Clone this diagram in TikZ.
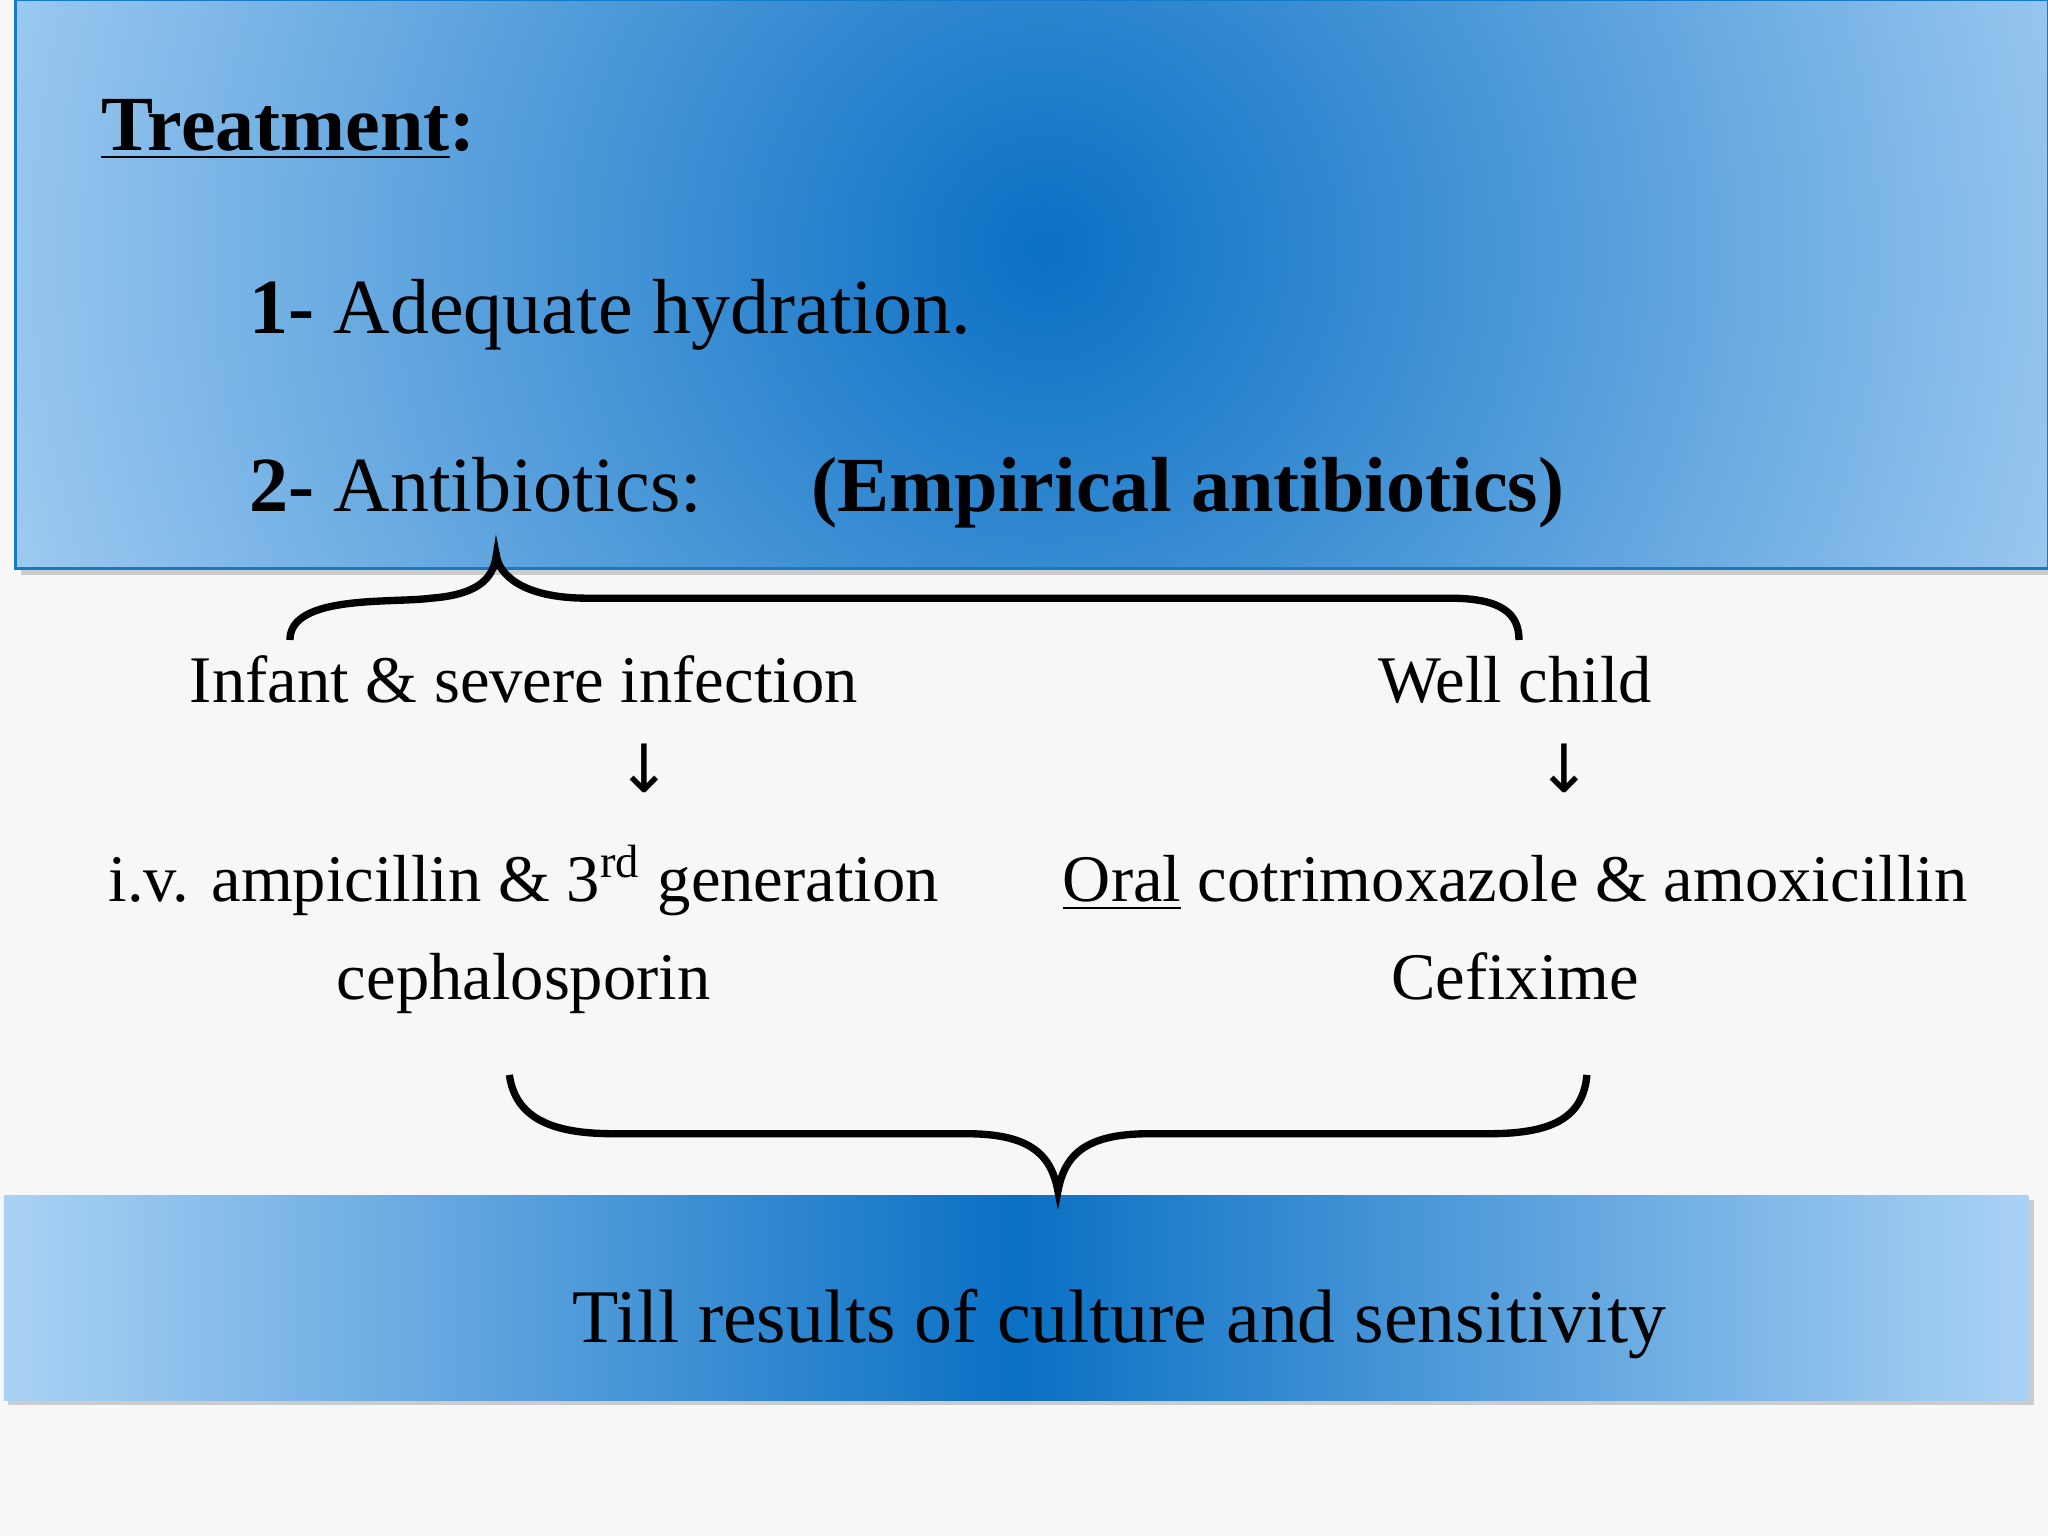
\documentclass[tikz,border=0pt]{standalone}
\usepackage{fontspec}
\setmainfont{Liberation Serif}
\newfontfamily\symf{DejaVu Sans}
\definecolor{dblue}{RGB}{10,112,196}
\definecolor{lblue}{RGB}{170,210,245}
\definecolor{bg}{RGB}{247,247,247}
\begin{document}
\begin{tikzpicture}[x=0.01cm,y=-0.01cm,
  txt/.style={inner sep=0pt,font=\fontsize{14.5}{17}\selectfont},
  big/.style={inner sep=0pt,font=\fontsize{17}{20}\selectfont},
  brace/.style={line width=1.6pt,black}]
\fill[bg] (0,0) rectangle (1568,1176);
\useasboundingbox (0,0) rectangle (1568,1176);
% top box
\fill[gray!40] (16,4) rectangle (1572,440);
\begin{scope}
\clip (12,0) rectangle (1568,435);
\shade[inner color=dblue,outer color=lblue] (800,190) circle (900);
\end{scope}
\draw[cyan!60!blue,line width=0.6pt] (12,0) rectangle (1568,435);
% bottom box
\fill[gray!40] (6,919) rectangle (1557,1076);
\shade[left color=lblue,right color=lblue,middle color=dblue] (3,915) rectangle (1553,1072);
\node[big,anchor=base west] (t0) at (77,115) {\textbf{\underline{Treatment}:}};
\node[big,anchor=base west] (t1) at (190,255) {\textbf{1-} Adequate hydration.};
\node[big,anchor=base west] (t2) at (190,392) {\textbf{2-} Antibiotics:\hspace{1.4em}\textbf{(Empirical antibiotics)}};
% top brace
\coordinate (bl) at (222,490); \coordinate (bt) at (380,425); \coordinate (br) at (1163,490);
\draw[brace] (bl) .. controls (222,455) and (300,462) .. (330,458)
  .. controls (370,455) and (378,440) .. (bt)
  .. controls (382,440) and (400,458) .. (450,458) -- (1110,458)
  .. controls (1150,458) and (1163,470) .. (br);
\node[txt,anchor=base] (a1) at (401,538) {Infant \& severe infection};
\node[txt,anchor=base] (b1) at (1160,538) {Well child};
\node[txt,anchor=base] (a2) at (493,607) {\symf ↓};
\node[txt,anchor=base] (b2) at (1198,607) {\symf ↓};
\node[txt,anchor=base] (a3) at (401,690) {i.v. ampicillin \& 3\textsuperscript{rd} generation};
\node[txt,anchor=base] (a4) at (401,765) {cephalosporin};
\node[txt,anchor=base] (b3) at (1160,690) {\underline{Oral} cotrimoxazole \& amoxicillin};
\node[txt,anchor=base] (b4) at (1160,765) {Cefixime};
% bottom brace
\coordinate (cl) at (390,823); \coordinate (ct) at (810,912); \coordinate (cr) at (1215,823);
\draw[brace] (cl) .. controls (395,860) and (430,868) .. (470,868) -- (740,868)
  .. controls (790,868) and (805,885) .. (ct)
  .. controls (815,885) and (830,868) .. (880,868) -- (1140,868)
  .. controls (1190,868) and (1212,855) .. (cr);
\node[big,anchor=base,font=\fontsize{16.5}{20}\selectfont] (c1) at (857,1028) {Till results of culture and sensitivity};
\end{tikzpicture}
\end{document}
